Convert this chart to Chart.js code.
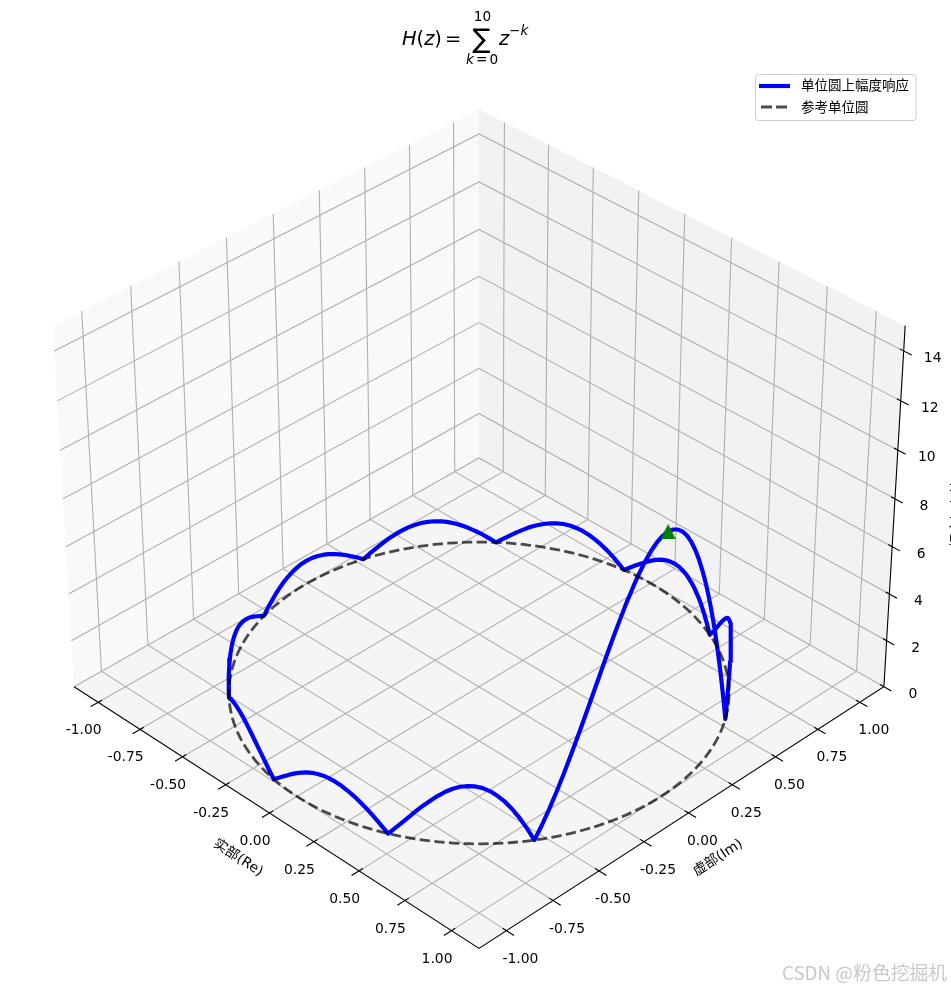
<!DOCTYPE html>
<html lang="zh">
<head>
  <meta charset="UTF-8">
  <title>H(z) 单位圆幅度响应</title>
  <script src="https://cdn.jsdelivr.net/npm/chart.js"></script>
  <style>
    html, body { margin: 0; padding: 0; background: #fff; }
    canvas { display: block; }
  </style>
</head>
<body>
  <canvas id="chart" width="951" height="990"></canvas>

  <script>
    // angle around the unit circle (degrees) and |H|
    const thetaDeg = [
      0, 1.64, 3.27, 4.91, 6.55, 8.18, 9.82, 11.45, 13.09, 14.73, 16.36, 18, 19.64, 21.27, 22.91, 24.55, 26.18, 27.82, 29.45, 31.09,
      32.73, 34.36, 36, 37.64, 39.27, 40.91, 42.55, 44.18, 45.82, 47.45, 49.09, 50.73, 52.36, 54, 55.64, 57.27, 58.91, 60.55, 62.18, 63.82,
      65.45, 67.09, 68.73, 70.36, 72, 73.64, 75.27, 76.91, 78.55, 80.18, 81.82, 83.45, 85.09, 86.73, 88.36, 90, 91.64, 93.27, 94.91, 96.55,
      98.18, 99.82, 101.45, 103.09, 104.73, 106.36, 108, 109.64, 111.27, 112.91, 114.55, 116.18, 117.82, 119.45, 121.09, 122.73, 124.36, 126, 127.64, 129.27,
      130.91, 132.55, 134.18, 135.82, 137.45, 139.09, 140.73, 142.36, 144, 145.64, 147.27, 148.91, 150.55, 152.18, 153.82, 155.45, 157.09, 158.73, 160.36, 162,
      163.64, 165.27, 166.91, 168.55, 170.18, 171.82, 173.45, 175.09, 176.73, 178.36, 180,
      181.64, 183.27, 184.91, 186.55, 188.18, 189.82, 191.45, 193.09, 194.73, 196.36, 198, 199.64, 201.27, 202.91, 204.55, 206.18, 207.82, 209.45, 211.09,
      212.73, 214.36, 216, 217.64, 219.27, 220.91, 222.55, 224.18, 225.82, 227.45, 229.09, 230.73, 232.36, 234, 235.64, 237.27, 238.91, 240.55, 242.18, 243.82,
      245.45, 247.09, 248.73, 250.36, 252, 253.64, 255.27, 256.91, 258.55, 260.18, 261.82, 263.45, 265.09, 266.73, 268.36, 270, 271.64, 273.27, 274.91, 276.55,
      278.18, 279.82, 281.45, 283.09, 284.73, 286.36, 288, 289.64, 291.27, 292.91, 294.55, 296.18, 297.82, 299.45, 301.09, 302.73, 304.36, 306, 307.64, 309.27,
      310.91, 312.55, 314.18, 315.82, 317.45, 319.09, 320.73, 322.36, 324, 325.64, 327.27, 328.91, 330.55, 332.18, 333.82, 335.45, 337.09, 338.73, 340.36, 342,
      343.64, 345.27, 346.91, 348.55, 350.18, 351.82, 353.45, 355.09, 356.73, 358.36, 360
    ];
    const magnitude = [
      11, 10.95, 10.82, 10.6, 10.3, 9.91, 9.45, 8.93, 8.34, 7.71, 7.03, 6.31, 5.58, 4.83, 4.08, 3.33, 2.6, 1.89, 1.22, 0.58,
      0, 0.53, 1, 1.41, 1.75, 2.02, 2.23, 2.37, 2.44, 2.45, 2.41, 2.31, 2.16, 1.96, 1.73, 1.48, 1.2, 0.9, 0.6, 0.3,
      0, 0.28, 0.55, 0.79, 1, 1.18, 1.32, 1.43, 1.5, 1.53, 1.53, 1.48, 1.41, 1.3, 1.16, 1, 0.82, 0.62, 0.42, 0.21,
      0, 0.2, 0.4, 0.58, 0.74, 0.88, 1, 1.09, 1.15, 1.19, 1.19, 1.16, 1.11, 1.03, 0.93, 0.81, 0.66, 0.51, 0.34, 0.17,
      0, 0.17, 0.34, 0.49, 0.63, 0.75, 0.86, 0.94, 1, 1.03, 1.04, 1.03, 0.98, 0.92, 0.83, 0.72, 0.6, 0.46, 0.31, 0.16,
      0, 0.16, 0.31, 0.46, 0.59, 0.71, 0.81, 0.89, 0.95, 0.99, 1,
      0.99, 0.95, 0.89, 0.81, 0.71, 0.59, 0.46, 0.31, 0.16, 0,
      0.16, 0.31, 0.46, 0.6, 0.72, 0.83, 0.92, 0.98, 1.03, 1.04, 1.03, 1, 0.94, 0.86, 0.75, 0.63, 0.49, 0.34, 0.17, 0,
      0.17, 0.34, 0.51, 0.66, 0.81, 0.93, 1.03, 1.11, 1.16, 1.19, 1.19, 1.15, 1.09, 1, 0.88, 0.74, 0.58, 0.4, 0.2, 0,
      0.21, 0.42, 0.62, 0.82, 1, 1.16, 1.3, 1.41, 1.48, 1.53, 1.53, 1.5, 1.43, 1.32, 1.18, 1, 0.79, 0.55, 0.28, 0,
      0.3, 0.6, 0.9, 1.2, 1.48, 1.73, 1.96, 2.16, 2.31, 2.41, 2.45, 2.44, 2.37, 2.23, 2.02, 1.75, 1.41, 1, 0.53, 0,
      0.58, 1.22, 1.89, 2.6, 3.33, 4.08, 4.83, 5.58, 6.31, 7.03, 7.71, 8.34, 8.93, 9.45, 9.91, 10.3, 10.6, 10.82, 10.95, 11
    ];
    const peak = [1, 0, 11];

    const planeTicks = [-1, -0.75, -0.5, -0.25, 0, 0.25, 0.5, 0.75, 1];
    const planeTickLabels = ["-1.00", "-0.75", "-0.50", "-0.25", "0.00", "0.25", "0.50", "0.75", "1.00"];
    const zTicks = [0, 2, 4, 6, 8, 10, 12, 14];
    const zTickLabels = ["0", "2", "4", "6", "8", "10", "12", "14"];

    const legendLabels = ["单位圆上幅度响应", "参考单位圆"];
    const xTitle = "实部(Re)";
    const yTitle = "虚部(Im)";
    const zTitle = "幅度|H(z)|";
    const watermark = "CSDN @粉色挖掘机";

    // axis limits of the 3d box
    const lim = 1.1458, zMax = 15;

    // same camera as a matplotlib 3d axes: elev 35, azim -45, box 4:4:3
    const boxX = 1.1905, boxZ = 0.8929, dist = 10;
    const el = 35 * Math.PI / 180, az = -45 * Math.PI / 180;
    const w = [Math.cos(el) * Math.cos(az), Math.cos(el) * Math.sin(az), Math.sin(el)];
    const u = [Math.SQRT1_2, Math.SQRT1_2, 0];
    const v = [w[1] * u[2] - w[2] * u[1], w[2] * u[0] - w[0] * u[2], w[0] * u[1] - w[1] * u[0]];
    const dot = (a, b) => a[0] * b[0] + a[1] * b[1] + a[2] * b[2];

    function project(x, y, z) {
      const p = [x / (2 * lim) * boxX, y / (2 * lim) * boxX, (z / zMax - 0.5) * boxZ];
      const d = dist - dot(w, p);
      return { x: 479 + 4933 * dot(u, p) / d, y: 510.8 - 4933 * dot(v, p) / d };
    }

    const gap = { x: NaN, y: NaN };
    const polyline = pts => pts.map(p => project(p[0], p[1], p[2]));
    const segments = list => list.flatMap(pts => [...polyline(pts), gap]);

    const gridLines = segments([
      ...planeTicks.map(t => [[t, -lim, 0], [t, lim, 0], [t, lim, zMax]]),
      ...planeTicks.map(t => [[lim, t, 0], [-lim, t, 0], [-lim, t, zMax]]),
      ...zTicks.map(t => [[-lim, -lim, t], [-lim, lim, t], [lim, lim, t]])
    ]);
    const axisLines = segments([
      [[-lim, -lim, 0], [lim, -lim, 0], [lim, lim, 0], [lim, lim, zMax]],
      ...planeTicks.map(t => [[t, -lim - 0.04, 0], [t, -lim + 0.02, 0]]),
      ...planeTicks.map(t => [[lim + 0.04, t, 0], [lim - 0.02, t, 0]]),
      ...zTicks.map(t => [[lim + 0.04, lim, t], [lim - 0.02, lim, t]])
    ]);

    const toRad = d => d * Math.PI / 180;
    const curve = thetaDeg.map((t, i) => project(Math.cos(toRad(t)), Math.sin(toRad(t)), magnitude[i]));
    const circle = thetaDeg.map(t => project(Math.cos(toRad(t)), Math.sin(toRad(t)), 0));

    function pane(corners, color, order) {
      return {
        data: polyline(corners), showLine: true, fill: "shape", backgroundColor: color,
        borderWidth: 0, pointRadius: 0, order: order
      };
    }
    function lines(data, color, width, order) {
      return { data: data, showLine: true, borderColor: color, borderWidth: width, pointRadius: 0, order: order };
    }

    // matplotlib's ^ marker sits centred in its box, chart.js's triangle does not
    function triangleMarker(size, color) {
      const c = document.createElement("canvas");
      c.width = size;
      c.height = size;
      const g = c.getContext("2d");
      g.fillStyle = color;
      g.beginPath();
      g.moveTo(size / 2, 0);
      g.lineTo(size, size);
      g.lineTo(0, size);
      g.closePath();
      g.fill();
      return c;
    }

    const sansFont = '"DejaVu Sans", "Noto Sans CJK SC", sans-serif';

    function drawTitle(ctx) {
      ctx.fillStyle = "#000";
      ctx.textAlign = "left";
      ctx.textBaseline = "alphabetic";
      const it = 'italic 19.4px "DejaVu Sans"', up = '19.4px "DejaVu Sans"';
      let cx = 402;
      [["H", it], ["(", up], ["z", it], [")", up]].forEach(r => {
        ctx.font = r[1];
        ctx.fillText(r[0], cx, 45);
        cx += ctx.measureText(r[0]).width;
      });
      ctx.font = up;
      ctx.fillText("=", 445, 45);
      ctx.font = '27px "DejaVu Sans"';
      ctx.textAlign = "center";
      ctx.fillText("∑", 481.5, 48);
      ctx.font = '13.6px "DejaVu Sans"';
      ctx.fillText("10", 482.5, 21);
      ctx.textAlign = "left";
      ctx.font = 'italic 13.6px "DejaVu Sans"';
      ctx.fillText("k", 466, 64);
      ctx.font = '13.6px "DejaVu Sans"';
      ctx.fillText("=", 476, 64);
      ctx.fillText("0", 489.5, 64);
      ctx.font = it;
      ctx.fillText("z", 499, 45);
      ctx.font = '13.6px "DejaVu Sans"';
      ctx.fillText("−", 509, 35);
      ctx.font = 'italic 13.6px "DejaVu Sans"';
      ctx.fillText("k", 520.5, 35);
    }

    function drawLegend(ctx) {
      ctx.beginPath();
      ctx.roundRect(755.5, 74.5, 160.5, 46, 3);
      ctx.fillStyle = "rgba(255,255,255,0.8)";
      ctx.fill();
      ctx.strokeStyle = "#cccccc";
      ctx.lineWidth = 1;
      ctx.stroke();

      ctx.beginPath();
      ctx.moveTo(759, 86);
      ctx.lineTo(790, 86);
      ctx.strokeStyle = "#0000ff";
      ctx.lineWidth = 4.17;
      ctx.stroke();

      ctx.beginPath();
      ctx.setLineDash([11, 4]);
      ctx.moveTo(761, 107);
      ctx.lineTo(790, 107);
      ctx.strokeStyle = "rgba(0,0,0,0.7)";
      ctx.lineWidth = 2.78;
      ctx.stroke();
      ctx.setLineDash([]);

      ctx.fillStyle = "#000";
      ctx.font = '13.5px "Noto Sans CJK SC"';
      ctx.textAlign = "left";
      ctx.textBaseline = "middle";
      legendLabels.forEach((t, i) => ctx.fillText(t, 801, 85 + i * 22));
    }

    function rotatedText(ctx, text, x, y, deg) {
      ctx.save();
      ctx.translate(x, y);
      ctx.rotate(toRad(deg));
      ctx.fillText(text, 0, 0);
      ctx.restore();
    }

    const textPlugin = {
      id: "texts",
      afterDraw(chart) {
        const ctx = chart.ctx;
        const sx = chart.scales.x, sy = chart.scales.y;
        const at = (p, dx, dy) => [sx.getPixelForValue(p.x) + dx, sy.getPixelForValue(p.y) + dy];
        ctx.save();

        ctx.font = "13.9px " + sansFont;
        ctx.fillStyle = "#000";
        ctx.textAlign = "center";
        ctx.textBaseline = "middle";
        planeTicks.forEach((t, i) => {
          const a = at(project(t, -lim, 0), -14.5, 28.5);
          ctx.fillText(planeTickLabels[i], a[0], a[1]);
          const b = at(project(lim, t, 0), 14, 28.5);
          ctx.fillText(planeTickLabels[i], b[0], b[1]);
        });
        zTicks.forEach((t, i) => {
          const a = at(project(lim, lim, t), 29, 7.5);
          ctx.fillText(zTickLabels[i], a[0], a[1]);
        });

        rotatedText(ctx, xTitle, 238, 858, 33);
        rotatedText(ctx, yTitle, 718, 858, -33);
        rotatedText(ctx, zTitle, 957, 515, -90);

        drawTitle(ctx);
        drawLegend(ctx);

        ctx.font = '18.8px "Noto Sans CJK SC"';
        ctx.fillStyle = "#c9c9c9";
        ctx.textAlign = "right";
        ctx.textBaseline = "middle";
        ctx.fillText(watermark, 947, 973);
        ctx.restore();
      }
    };

    new Chart(document.getElementById("chart"), {
      type: "scatter",
      data: {
        datasets: [
          pane([[-lim, -lim, 0], [lim, -lim, 0], [lim, lim, 0], [-lim, lim, 0]], "#f5f5f5", 12),
          pane([[-lim, -lim, 0], [-lim, lim, 0], [-lim, lim, zMax], [-lim, -lim, zMax]], "#f9f9f9", 12),
          pane([[-lim, lim, 0], [lim, lim, 0], [lim, lim, zMax], [-lim, lim, zMax]], "#f2f2f2", 12),
          lines(gridLines, "#b0b0b0", 1.11, 11),
          lines(axisLines, "#000000", 1.11, 10),
          {
            label: legendLabels[0], data: curve, showLine: true, borderColor: "#0000ff", borderWidth: 4.17,
            borderJoinStyle: "round", pointRadius: 0, order: 3
          },
          {
            label: legendLabels[1], data: circle, showLine: true, borderColor: "rgba(0,0,0,0.7)", borderWidth: 2.78,
            borderDash: [10.3, 4.4], pointRadius: 0, order: 2
          },
          {
            data: [project(peak[0], peak[1], peak[2])], pointStyle: triangleMarker(15, "#008000"), order: 1
          }
        ]
      },
      options: {
        responsive: false,
        animation: false,
        layout: { autoPadding: false, padding: 0 },
        plugins: { legend: { display: false }, tooltip: { enabled: false } },
        scales: {
          x: { type: "linear", min: 0, max: 951, display: false },
          y: { type: "linear", min: 0, max: 990, reverse: true, display: false }
        }
      },
      plugins: [textPlugin]
    });
  </script>
</body>
</html>
